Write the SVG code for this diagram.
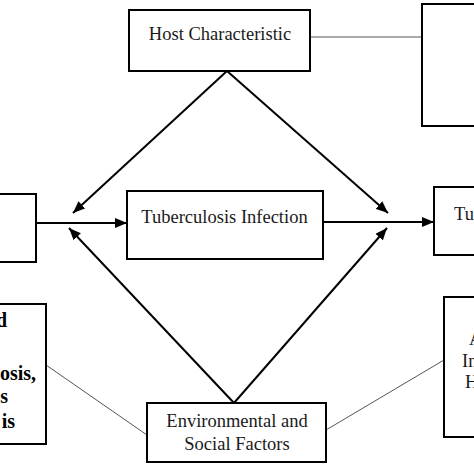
<svg xmlns="http://www.w3.org/2000/svg" width="474" height="474" viewBox="0 0 474 474">
  <style>
    .box { fill: #ffffff; stroke: #000000; stroke-width: 2; }
    .lbl { font-family: "Liberation Serif", "Times New Roman", serif; font-size: 18.5px; fill: #1a1a1a; }
    .bold { font-family: "Liberation Serif", "Times New Roman", serif; font-size: 20px; font-weight: bold; fill: #000000; }
    .arrow { stroke: #000000; stroke-width: 2; fill: none; marker-end: url(#ah); }
    .thin { stroke: #555555; stroke-width: 1; fill: none; }
  </style>
  <defs>
    <marker id="ah" viewBox="0 0 12 10" refX="12" refY="5" markerWidth="12" markerHeight="10" orient="auto" markerUnits="userSpaceOnUse">
      <path d="M0,0 L12,5 L0,10 z" fill="#000000"/>
    </marker>
  </defs>
  <rect width="474" height="474" fill="#ffffff"/>

  <g id="connectors">
    <line class="thin" x1="310" y1="37" x2="422" y2="37"/>
    <line class="thin" x1="46" y1="365" x2="147" y2="435"/>
    <line class="thin" x1="326" y1="430" x2="444" y2="360"/>
    <line class="arrow" x1="36" y1="223" x2="127" y2="223"/>
    <line class="arrow" x1="323" y1="222" x2="434" y2="222"/>
    <line class="arrow" x1="227" y1="71" x2="73" y2="213"/>
    <line class="arrow" x1="227" y1="71" x2="388" y2="213"/>
    <line class="arrow" x1="234" y1="403" x2="69" y2="228"/>
    <line class="arrow" x1="234" y1="403" x2="387" y2="228"/>
  </g>

  <g id="host">
    <rect class="box" x="129" y="10" width="181" height="61"/>
    <text class="lbl" x="220" y="40" text-anchor="middle">Host Characteristic</text>
  </g>

  <g id="top-right">
    <rect class="box" x="422" y="4" width="70" height="122"/>
  </g>

  <g id="left">
    <rect class="box" x="-10" y="194" width="46" height="68"/>
  </g>

  <g id="infection">
    <rect class="box" x="127" y="191" width="196" height="68"/>
    <text class="lbl" x="224.5" y="223" text-anchor="middle">Tuberculosis Infection</text>
  </g>

  <g id="right">
    <rect class="box" x="434" y="187" width="60" height="68"/>
    <text class="lbl" x="454" y="220">Tu</text>
  </g>

  <g id="bottom-left">
    <rect class="box" x="-10" y="304" width="56" height="140"/>
    <text class="bold" x="7" y="327" text-anchor="end">d</text>
    <text class="bold" x="36" y="380" text-anchor="end">osis,</text>
    <text class="bold" x="8" y="403" text-anchor="end">s</text>
    <text class="bold" x="15" y="428" text-anchor="end">is</text>
  </g>

  <g id="environment">
    <rect class="box" x="147" y="403" width="179" height="59"/>
    <text class="lbl" x="237" y="427" text-anchor="middle">Environmental and</text>
    <text class="lbl" x="237" y="450" text-anchor="middle">Social Factors</text>
  </g>

  <g id="bottom-right">
    <rect class="box" x="444" y="297" width="50" height="140"/>
    <text class="lbl" x="469" y="345">A</text>
    <text class="lbl" x="462" y="367">In</text>
    <text class="lbl" x="465" y="388">H</text>
  </g>
</svg>
